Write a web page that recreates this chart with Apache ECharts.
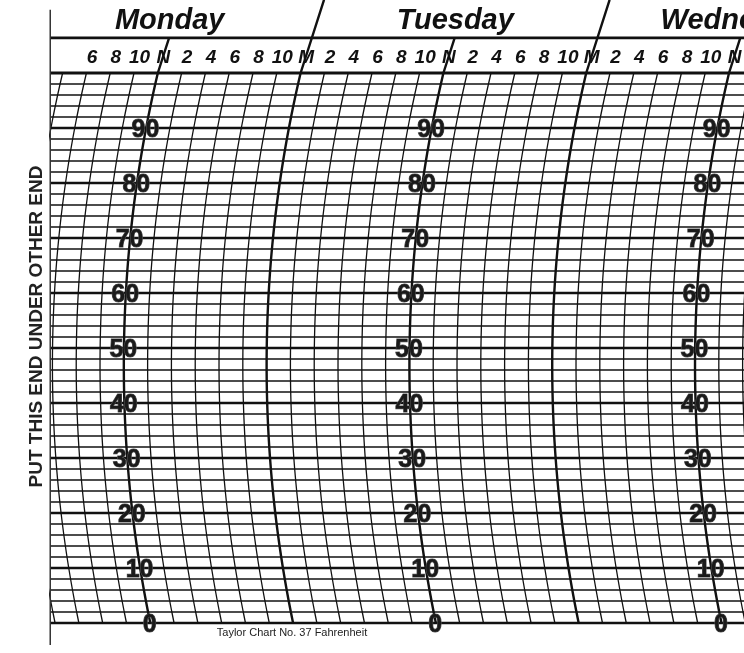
<!DOCTYPE html>
<html><head><meta charset="utf-8">
<script src="https://cdn.jsdelivr.net/npm/echarts@6/dist/echarts.min.js"></script>
<style>html,body{margin:0;padding:0;background:#fff}#c{width:744px;height:653px}</style>
</head><body><div id="c"></div>
<script>
// ---- data ----
var days = ['Monday', 'Tuesday', 'Wednesday'];
var hourTickLabels = ['M', '2', '4', '6', '8', '10', 'N', '2', '4', '6', '8', '10']; // every 2 hours from midnight
var firstLabelHour = 6;      // first printed hour label (Monday 6 AM)
var lastLabelHour = 60;      // Wednesday noon
var valueLabels = [0, 10, 20, 30, 40, 50, 60, 70, 80, 90];
var valueMin = 0, valueMax = 100, minorStep = 2, majorStep = 10;
var chartTitle = 'Taylor Chart No. 37 Fahrenheit';
var sideText = 'PUT THIS END UNDER OTHER END';

// ---- geometry of the chart paper ----
var PXH = 11.9, PXV = 5.5;       // px per hour / per degree
var X0 = 50, Y0 = 623;
var xMin = 2.94, xMax = 61.26;
var yMin = -30 / PXV, yMax = Y0 / PXV;
var R = 1271, YC = 365;
function offHours(v) { // arc offset (in hours) of a time line at value v
  var y = Y0 - PXV * v, yt = Y0 - PXV * 100;
  var top = R - Math.sqrt(R * R - (yt - YC) * (yt - YC));
  var cur = R - Math.sqrt(R * R - (y - YC) * (y - YC));
  return (cur - top) / PXH;
}
function headShift(v) { return 0.32 * PXV * (v - 100) / PXH; }

var series = [];
var ink = '#111';
var FONT = '"Liberation Sans", Arial, sans-serif';
// horizontal lines
for (var v = valueMin; v < valueMax; v += minorStep) {
  var major = v % majorStep === 0;
  series.push({type: 'line', data: [[xMin, v], [xMax, v]], symbol: 'none', silent: true,
    lineStyle: {color: ink, width: major ? 2.4 : 1.3, opacity: 1}});
}
// header lines
[100, 106.4].forEach(function (v) {
  series.push({type: 'line', data: [[xMin, v], [xMax, v]], symbol: 'none', silent: true,
    lineStyle: {color: ink, width: 2.8}});
});
// time arcs
for (var h = -12; h <= 72; h += 2) {
  var pts = [];
  for (var vv = 0; vv <= 100; vv += 2) pts.push([h + offHours(vv), vv]);
  var mod = ((h % 24) + 24) % 24;
  var thick = mod === 0 || mod === 12;
  if (thick) {
    var topV = mod === 12 ? 106.4 : 113.3;
    pts.push([h + headShift(topV), topV]);
  }
  series.push({type: 'line', data: pts, symbol: 'none', silent: true,
    lineStyle: {color: ink, width: thick ? 2.4 : 1.3}});
}
// left border
series.push({type: 'line', data: [[xMin + 0.02, -4], [xMin + 0.02, 111.5]], symbol: 'none', silent: true,
  lineStyle: {color: '#333', width: 1.5}});

function labelSeries(data, lab) {
  lab.show = true; lab.position = 'inside'; lab.formatter = '{b}'; lab.opacity = 1;
  lab.fontFamily = FONT;
  return {type: 'scatter', data: data, symbolSize: 0, silent: true, z: 10,
    itemStyle: {opacity: 1}, label: lab, emphasis: {disabled: true}};
}
// hour labels
var hl = [];
for (var h2 = firstLabelHour; h2 <= lastLabelHour; h2 += 2) {
  var m = ((h2 % 24) + 24) % 24;
  hl.push({value: [h2 + headShift(102.8) + 0.05, 102.8], name: hourTickLabels[m / 2]});
}
series.push(labelSeries(hl, {color: '#111', fontSize: 19, fontWeight: 'bold', fontStyle: 'italic'}));
// day labels
series.push(labelSeries(days.map(function (d, i) { return {value: [13 + 24 * i, 109.4], name: d}; }),
  {color: '#111', fontSize: 29, fontWeight: 'bold', fontStyle: 'italic'}));
// value labels along noon arcs
var vl = [];
days.forEach(function (d, i) {
  valueLabels.forEach(function (val) {
    vl.push({value: [12 + 24 * i + offHours(val) - 0.05, val - 0.3], name: String(val)});
  });
});
series.push(labelSeries(vl, {color: '#1a1a1a', fontSize: 25, fontWeight: 'bold',
  textBorderColor: '#555', textBorderWidth: 1}));
// footer
series.push(labelSeries([{value: [(292 - 15) / PXH, -1.9], name: chartTitle}],
  {color: '#222', fontSize: 11}));

var chart = echarts.init(document.getElementById('c'));
chart.setOption({
  animation: false,
  grid: {left: X0, right: 0, top: 0, bottom: 0},
  xAxis: {type: 'value', min: xMin, max: xMax, show: false},
  yAxis: {type: 'value', min: yMin, max: yMax, show: false},
  graphic: [{type: 'text', left: 27, top: 'middle', rotation: Math.PI / 2,
    style: {text: sideText, fill: '#222', font: 'bold 19px "Liberation Sans", Arial'}}],
  series: series
});
</script></body></html>
